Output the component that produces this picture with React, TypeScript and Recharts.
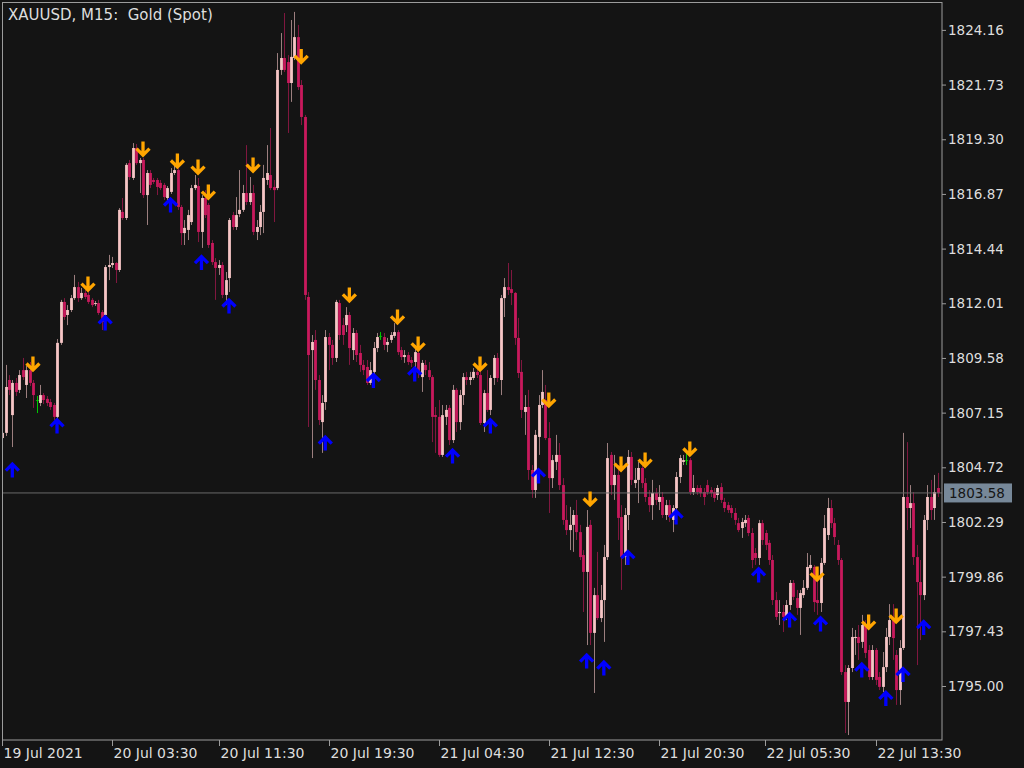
import React from 'react';
import { ComposedChart, Bar, Line, XAxis, YAxis, ReferenceLine } from 'recharts';

document.body.style.margin = '0';
document.body.style.background = '#141414';

// XAUUSD M15 candles left to right
const OPENS = [
  1806.02, 1806.25, 1808.60, 1807.04, 1808.47, 1808.16, 1809.04, 1808.38, 1809.04, 1808.47,
  1807.71, 1807.58, 1807.93, 1807.76, 1807.62, 1807.49, 1806.96, 1810.25, 1812.07, 1811.49,
  1811.71, 1812.24, 1812.73, 1812.24, 1812.47, 1812.38, 1812.16, 1811.98, 1812.02, 1811.62,
  1811.49, 1813.62, 1813.71, 1813.80, 1813.49, 1816.07, 1815.80, 1818.24, 1817.58, 1818.91,
  1818.24, 1818.38, 1816.82, 1817.80, 1817.49, 1817.49, 1817.36, 1817.27, 1816.69, 1816.96,
  1817.80, 1817.93, 1816.29, 1815.13, 1815.27, 1815.62, 1817.13, 1817.22, 1815.18, 1816.69,
  1816.38, 1814.69, 1813.84, 1813.58, 1813.71, 1812.38, 1813.13, 1815.93, 1815.40, 1815.98,
  1816.16, 1816.91, 1816.51, 1816.91, 1815.18, 1815.40, 1816.07, 1817.49, 1817.71, 1817.18,
  1817.13, 1822.38, 1822.91, 1822.73, 1821.80, 1822.91, 1823.84, 1821.71, 1820.29, 1812.29,
  1809.93, 1810.38, 1808.60, 1806.73, 1807.62, 1810.51, 1810.16, 1809.58, 1812.02, 1811.04,
  1811.04, 1811.49, 1809.93, 1810.69, 1809.80, 1809.27, 1809.18, 1808.47, 1808.96, 1810.02,
  1810.56, 1810.51, 1810.16, 1810.38, 1810.56, 1810.73, 1809.93, 1809.62, 1809.71, 1809.49,
  1809.40, 1809.80, 1808.73, 1809.27, 1809.04, 1808.73, 1807.04, 1806.96, 1805.27, 1806.96,
  1807.36, 1805.93, 1808.16, 1806.73, 1807.93, 1808.73, 1808.60, 1808.69, 1808.96, 1808.82,
  1806.69, 1808.02, 1807.27, 1808.69, 1809.58, 1808.60, 1812.24, 1812.73, 1812.64, 1812.47,
  1810.47, 1808.96, 1807.18, 1807.40, 1804.60, 1803.71, 1806.07, 1807.49, 1807.71, 1806.02,
  1804.24, 1804.96, 1805.27, 1803.93, 1802.38, 1801.93, 1802.16, 1802.60, 1801.84, 1800.82,
  1800.07, 1802.16, 1797.36, 1799.04, 1798.02, 1798.82, 1800.73, 1805.27, 1803.93, 1804.38,
  1802.51, 1800.73, 1802.60, 1805.18, 1804.02, 1804.16, 1804.69, 1804.02, 1803.40, 1803.04,
  1803.58, 1803.18, 1803.40, 1802.60, 1803.04, 1802.38, 1802.91, 1804.29, 1804.96, 1805.04,
  1805.04, 1803.62, 1803.80, 1803.80, 1803.62, 1803.93, 1803.71, 1803.62, 1803.49, 1803.84,
  1803.18, 1803.04, 1802.91, 1802.69, 1802.24, 1802.02, 1802.24, 1802.47, 1801.80, 1800.91,
  1800.69, 1802.24, 1801.80, 1801.36, 1800.60, 1798.82, 1798.24, 1798.29, 1798.07, 1798.60,
  1799.58, 1798.91, 1798.47, 1799.04, 1799.36, 1800.24, 1800.29, 1798.82, 1798.69, 1800.47,
  1801.71, 1802.91, 1802.24, 1801.27, 1800.60, 1795.62, 1794.29, 1795.80, 1797.13, 1797.18,
  1796.96, 1797.71, 1796.60, 1795.40, 1796.60, 1795.40, 1794.96, 1795.84, 1797.18, 1797.93,
  1796.38, 1794.82, 1796.69, 1803.40, 1802.91, 1803.13, 1800.73, 1799.62, 1799.04, 1802.38,
  1803.40, 1802.91, 1803.80,
];

const HIGHS = [
  1806.38, 1809.27, 1808.82, 1808.60, 1808.69, 1809.04, 1809.58, 1809.22, 1809.40, 1808.60,
  1807.89, 1808.38, 1808.02, 1807.89, 1807.76, 1807.58, 1810.42, 1812.16, 1812.24, 1811.93,
  1812.38, 1813.27, 1812.96, 1812.69, 1812.60, 1812.56, 1812.24, 1812.11, 1812.16, 1811.71,
  1813.71, 1814.16, 1814.07, 1813.84, 1816.24, 1816.69, 1818.24, 1818.38, 1819.13, 1819.09,
  1818.47, 1818.47, 1817.93, 1817.93, 1817.58, 1817.58, 1817.49, 1817.36, 1817.22, 1818.02,
  1818.24, 1818.02, 1816.38, 1815.71, 1816.16, 1817.27, 1817.71, 1817.58, 1816.82, 1817.04,
  1816.47, 1814.82, 1814.02, 1813.93, 1813.84, 1813.40, 1815.80, 1816.07, 1816.73, 1817.93,
  1817.27, 1819.04, 1817.62, 1817.27, 1815.71, 1816.38, 1818.16, 1819.04, 1819.80, 1817.49,
  1823.13, 1824.02, 1824.91, 1823.04, 1824.60, 1824.96, 1824.38, 1821.93, 1820.38, 1812.51,
  1810.60, 1810.82, 1808.82, 1807.93, 1810.82, 1810.69, 1810.38, 1812.16, 1812.16, 1811.36,
  1811.84, 1811.62, 1810.91, 1810.82, 1810.16, 1809.49, 1809.49, 1809.40, 1810.29, 1810.69,
  1810.73, 1810.69, 1810.47, 1810.73, 1811.13, 1810.82, 1810.07, 1809.93, 1809.84, 1809.62,
  1810.16, 1809.93, 1809.49, 1809.49, 1809.40, 1808.82, 1807.40, 1807.71, 1807.49, 1807.49,
  1807.49, 1808.38, 1808.24, 1808.16, 1808.91, 1808.96, 1808.96, 1809.13, 1809.13, 1809.04,
  1808.16, 1809.04, 1808.82, 1809.71, 1809.80, 1812.38, 1813.13, 1813.80, 1813.49, 1812.51,
  1811.36, 1809.49, 1807.93, 1808.16, 1804.82, 1806.38, 1807.93, 1809.04, 1808.38, 1806.73,
  1805.27, 1806.16, 1805.80, 1804.24, 1803.04, 1802.96, 1802.82, 1803.27, 1802.16, 1801.04,
  1802.82, 1802.38, 1799.36, 1800.96, 1799.49, 1801.27, 1805.80, 1805.40, 1805.27, 1804.82,
  1803.04, 1802.91, 1805.49, 1805.40, 1804.69, 1804.96, 1804.96, 1804.24, 1803.71, 1804.16,
  1803.80, 1803.93, 1803.62, 1803.27, 1803.27, 1803.04, 1804.51, 1805.27, 1805.27, 1805.40,
  1805.13, 1804.38, 1803.93, 1803.93, 1803.80, 1804.16, 1803.84, 1803.80, 1803.93, 1804.02,
  1803.36, 1803.18, 1803.04, 1802.91, 1802.47, 1802.47, 1802.60, 1802.60, 1802.02, 1801.13,
  1802.38, 1802.38, 1801.93, 1801.49, 1800.82, 1799.18, 1798.82, 1798.60, 1798.82, 1799.71,
  1799.71, 1799.27, 1799.27, 1799.71, 1800.91, 1800.82, 1800.38, 1800.16, 1800.69, 1802.60,
  1803.36, 1803.27, 1802.47, 1801.49, 1800.69, 1795.93, 1795.93, 1797.58, 1797.49, 1797.71,
  1798.16, 1797.93, 1796.82, 1796.82, 1796.69, 1795.62, 1796.51, 1797.58, 1798.64, 1798.64,
  1796.60, 1797.04, 1806.25, 1805.84, 1803.93, 1803.62, 1801.27, 1800.60, 1802.60, 1803.93,
  1804.16, 1804.38, 1804.47,
];

const LOWS = [
  1805.93, 1806.11, 1807.93, 1805.62, 1807.89, 1808.02, 1808.60, 1807.80, 1808.33, 1807.36,
  1807.13, 1807.44, 1807.53, 1807.44, 1807.27, 1806.82, 1806.87, 1810.16, 1811.27, 1811.04,
  1811.62, 1812.16, 1812.07, 1812.16, 1812.20, 1811.98, 1811.84, 1811.89, 1811.49, 1810.82,
  1811.36, 1813.04, 1813.58, 1812.91, 1813.40, 1815.71, 1815.71, 1817.49, 1817.49, 1818.16,
  1816.91, 1816.69, 1815.49, 1817.13, 1817.31, 1816.82, 1817.04, 1816.60, 1816.60, 1816.87,
  1817.71, 1816.16, 1814.60, 1814.60, 1814.82, 1815.49, 1817.04, 1814.73, 1814.47, 1815.80,
  1814.47, 1813.71, 1812.16, 1813.27, 1812.24, 1811.93, 1812.51, 1815.27, 1815.27, 1815.84,
  1816.07, 1816.38, 1816.38, 1815.04, 1814.82, 1815.04, 1815.13, 1817.27, 1817.04, 1815.62,
  1817.04, 1822.16, 1822.29, 1819.58, 1820.96, 1822.82, 1821.49, 1819.93, 1812.16, 1806.51,
  1805.13, 1808.16, 1806.60, 1805.36, 1807.27, 1809.04, 1809.27, 1809.40, 1810.38, 1810.16,
  1810.73, 1809.27, 1809.49, 1809.40, 1808.96, 1808.82, 1808.38, 1808.38, 1808.82, 1809.84,
  1810.38, 1809.93, 1809.84, 1810.25, 1810.47, 1809.71, 1809.49, 1809.36, 1809.27, 1809.18,
  1809.13, 1808.69, 1808.07, 1808.82, 1808.60, 1805.84, 1805.36, 1805.18, 1805.18, 1806.60,
  1805.71, 1805.80, 1806.29, 1806.38, 1807.49, 1808.38, 1808.38, 1808.60, 1808.69, 1806.60,
  1806.29, 1807.18, 1807.04, 1808.38, 1808.51, 1807.93, 1811.40, 1812.38, 1811.93, 1810.16,
  1808.69, 1806.91, 1806.16, 1804.16, 1803.36, 1803.36, 1805.27, 1807.36, 1805.93, 1802.69,
  1803.80, 1804.60, 1803.71, 1802.16, 1801.71, 1801.04, 1800.96, 1801.49, 1800.60, 1798.29,
  1796.82, 1796.82, 1794.69, 1797.93, 1797.84, 1796.96, 1800.60, 1803.49, 1803.27, 1801.49,
  1799.27, 1800.38, 1801.93, 1803.93, 1803.80, 1803.13, 1803.80, 1803.18, 1802.73, 1802.38,
  1803.04, 1802.82, 1802.47, 1802.38, 1802.29, 1801.84, 1802.82, 1804.02, 1804.82, 1804.82,
  1803.49, 1803.49, 1803.49, 1803.40, 1803.04, 1803.49, 1803.40, 1803.18, 1803.27, 1803.13,
  1802.73, 1802.69, 1802.47, 1802.16, 1801.84, 1801.58, 1802.07, 1801.66, 1800.24, 1800.38,
  1800.38, 1801.27, 1801.04, 1800.38, 1798.60, 1797.93, 1797.71, 1797.40, 1797.93, 1798.38,
  1798.82, 1798.16, 1797.27, 1798.91, 1799.27, 1800.16, 1798.29, 1798.16, 1798.29, 1800.38,
  1801.49, 1802.02, 1801.27, 1800.38, 1795.49, 1792.91, 1792.82, 1795.62, 1796.38, 1796.16,
  1796.69, 1796.24, 1795.27, 1795.27, 1795.04, 1794.82, 1794.73, 1795.62, 1796.82, 1796.16,
  1794.16, 1794.16, 1796.60, 1801.93, 1802.02, 1800.38, 1795.93, 1797.04, 1798.82, 1801.93,
  1802.38, 1802.38, 1803.40,
];

const CLOSES = [
  1806.25, 1808.29, 1808.16, 1808.47, 1808.07, 1808.82, 1808.73, 1809.04, 1808.47, 1807.93,
  1807.71, 1807.93, 1807.71, 1807.58, 1807.40, 1806.96, 1810.25, 1812.07, 1811.40, 1811.71,
  1812.24, 1812.73, 1812.24, 1812.47, 1812.29, 1812.07, 1811.93, 1812.02, 1811.58, 1811.18,
  1813.62, 1813.71, 1813.80, 1813.49, 1816.16, 1815.80, 1818.16, 1817.62, 1818.91, 1818.24,
  1818.38, 1816.82, 1817.80, 1817.27, 1817.40, 1817.18, 1817.13, 1816.73, 1817.13, 1817.80,
  1817.93, 1816.29, 1815.13, 1815.36, 1815.93, 1817.13, 1817.27, 1815.18, 1816.69, 1815.93,
  1814.60, 1813.84, 1813.58, 1813.71, 1812.38, 1813.04, 1815.71, 1815.40, 1815.93, 1816.16,
  1816.91, 1816.51, 1816.91, 1815.18, 1815.40, 1816.07, 1817.58, 1817.80, 1817.13, 1817.04,
  1822.38, 1822.91, 1822.38, 1821.80, 1822.96, 1823.84, 1821.62, 1820.29, 1812.38, 1809.71,
  1810.29, 1808.60, 1806.82, 1807.58, 1810.51, 1810.16, 1809.58, 1812.07, 1810.60, 1810.60,
  1811.49, 1810.02, 1810.69, 1809.71, 1809.27, 1809.04, 1808.47, 1809.04, 1810.02, 1810.51,
  1810.56, 1810.16, 1810.29, 1810.60, 1810.73, 1809.84, 1809.62, 1809.71, 1809.40, 1809.36,
  1809.84, 1808.91, 1809.36, 1809.04, 1808.73, 1806.96, 1806.96, 1805.27, 1807.04, 1807.27,
  1805.93, 1808.16, 1806.73, 1807.93, 1808.73, 1808.60, 1808.73, 1808.96, 1808.82, 1806.69,
  1808.02, 1807.27, 1808.69, 1809.58, 1808.69, 1812.24, 1812.73, 1812.60, 1812.47, 1810.47,
  1808.91, 1807.27, 1807.40, 1804.60, 1803.71, 1806.16, 1807.49, 1808.07, 1806.02, 1804.24,
  1805.04, 1805.27, 1803.93, 1802.38, 1801.93, 1802.16, 1802.60, 1801.84, 1800.73, 1800.07,
  1802.07, 1797.36, 1799.04, 1798.02, 1798.82, 1800.73, 1805.13, 1803.93, 1804.38, 1802.47,
  1800.73, 1802.60, 1805.18, 1804.16, 1804.16, 1804.69, 1804.02, 1803.40, 1803.04, 1803.58,
  1803.27, 1803.40, 1802.60, 1803.04, 1802.51, 1802.91, 1804.29, 1805.13, 1805.04, 1805.04,
  1803.62, 1803.80, 1803.62, 1803.58, 1803.40, 1803.62, 1803.58, 1803.36, 1803.80, 1803.27,
  1802.91, 1802.82, 1802.69, 1802.38, 1801.93, 1802.29, 1802.38, 1801.80, 1800.60, 1800.69,
  1802.24, 1801.49, 1801.27, 1800.60, 1798.82, 1798.07, 1798.29, 1798.07, 1798.60, 1799.58,
  1798.96, 1798.47, 1799.13, 1799.36, 1800.29, 1800.38, 1798.73, 1798.69, 1800.47, 1802.02,
  1802.91, 1802.24, 1801.62, 1800.60, 1795.62, 1794.29, 1795.80, 1797.18, 1797.18, 1796.91,
  1797.71, 1796.47, 1795.40, 1796.60, 1795.27, 1794.96, 1795.84, 1797.18, 1797.93, 1797.13,
  1794.82, 1796.69, 1803.40, 1802.91, 1803.13, 1800.73, 1799.62, 1799.04, 1802.38, 1803.40,
  1802.82, 1803.62, 1803.58,
];

// indicator arrows: bar index + price level of the arrow centre
const DOWN_IDX = [9, 25, 41, 51, 57, 60, 73, 87, 101, 115, 121, 139, 159, 171, 180, 187, 200, 237, 252, 260];
const DOWN_PRICE = [
  1809.29, 1812.84, 1818.84, 1818.31, 1818.04, 1816.93, 1818.13, 1822.96, 1812.36, 1811.38,
  1810.18, 1809.29, 1807.69, 1803.29, 1804.84, 1805.02, 1805.51, 1799.96, 1797.82, 1798.09,
];
const UP_IDX = [3, 16, 30, 49, 58, 66, 94, 108, 120, 131, 142, 156, 170, 175, 182, 196, 220, 229, 238, 250, 257, 262, 268];
const UP_PRICE = [
  1804.62, 1806.58, 1811.16, 1816.40, 1813.84, 1811.91, 1805.82, 1808.60, 1808.89, 1805.24,
  1806.58, 1804.36, 1796.13, 1795.82, 1800.73, 1802.53, 1799.96, 1797.96, 1797.78, 1795.73,
  1794.47, 1795.53, 1797.62,
];

const PRICE_TICKS = [
  1795.0, 1797.43, 1799.86, 1802.29, 1804.72, 1807.15, 1809.58, 1812.01, 1814.44, 1816.87,
  1819.3, 1821.73, 1824.16,
];
const TIME_TICKS = [0, 32, 63, 95, 127, 159, 191, 222, 254];
const TIME_LABELS = [
  '19 Jul 2021', '20 Jul 03:30', '20 Jul 11:30', '20 Jul 19:30', '21 Jul 04:30',
  '21 Jul 12:30', '21 Jul 20:30', '22 Jul 05:30', '22 Jul 13:30',
];
const LAST_PRICE = 1803.58;

const BG = '#141414';
const BULL = '#f7c6c6';
const BEAR = '#c8195c';
const DOJI = '#00c800';
const FRAME = '#9c9c9c';
const TEXT = '#dedede';
const FONT = '"DejaVu Sans", sans-serif';

const data: any[] = OPENS.map((o, i) => ({
  i,
  o,
  h: HIGHS[i],
  l: LOWS[i],
  c: CLOSES[i],
  up: null,
  down: null,
}));
DOWN_IDX.forEach((idx, k) => { data[idx].down = DOWN_PRICE[k]; });
UP_IDX.forEach((idx, k) => { data[idx].up = UP_PRICE[k]; });

function Candle(props: any) {
  const { x, y, width, height, payload } = props;
  const { o, h, l, c } = payload;
  if (h === l || !isFinite(height)) return <g />;
  const top = Math.min(y, y + height);
  const hgt = Math.abs(height);
  const k = hgt / (h - l);
  const cx = Math.round(x + width / 2) + 0.5;
  const bTop = top + (h - Math.max(o, c)) * k;
  const bBot = top + (h - Math.min(o, c)) * k;
  const col = o === c ? DOJI : c > o ? BULL : BEAR;
  return (
    <g>
      <line x1={cx} x2={cx} y1={top} y2={top + hgt} stroke={col} strokeOpacity={o === c ? 1 : 0.6} />
      <rect x={cx - 1.4} y={bTop} width={2.8} height={Math.max(1, bBot - bTop)} fill={col} />
    </g>
  );
}

function DownArrow(props: any) {
  const { cx, cy, value } = props;
  if (value == null || cy == null || !isFinite(cy)) return <g />;
  return (
    <path
      d={`M${cx},${cy - 8} L${cx},${cy + 5} M${cx - 6.5},${cy - 1} L${cx},${cy + 5.5} L${cx + 6.5},${cy - 1}`}
      stroke="#ffa500"
      strokeWidth={3.3}
      fill="none"
    />
  );
}

function UpArrow(props: any) {
  const { cx, cy, value } = props;
  if (value == null || cy == null || !isFinite(cy)) return <g />;
  return (
    <path
      d={`M${cx},${cy + 8} L${cx},${cy - 5} M${cx - 6.5},${cy + 1} L${cx},${cy - 5.5} L${cx + 6.5},${cy + 1}`}
      stroke="#0000ff"
      strokeWidth={3.3}
      fill="none"
    />
  );
}

function PriceTick(props: any) {
  const { y, payload } = props;
  return (
    <g>
      <line x1={942} x2={946} y1={y + 0.5} y2={y + 0.5} stroke={FRAME} />
      <text x={948} y={y + 5} fill={TEXT} fontSize={13.5} fontFamily={FONT}>
        {Number(payload.value).toFixed(2)}
      </text>
    </g>
  );
}

function TimeTick(props: any) {
  const { x, payload } = props;
  const label = TIME_LABELS[TIME_TICKS.indexOf(payload.value)];
  const px = Math.round(x) + 0.5;
  return (
    <g>
      <line x1={px} x2={px} y1={740} y2={746} stroke={FRAME} />
      <text x={px + 1} y={758} fill={TEXT} fontSize={14} fontFamily={FONT}>
        {label}
      </text>
    </g>
  );
}

function PriceTag(props: any) {
  const { viewBox } = props;
  const y = viewBox.y;
  return (
    <g>
      <rect x={944} y={y - 9.5} width={68} height={19} fill="#778899" />
      <text x={949} y={y + 5} fill="#151515" fontSize={13.5} fontFamily={FONT}>
        {LAST_PRICE.toFixed(2)}
      </text>
    </g>
  );
}

export default function App() {
  return (
    <div style={{ position: 'relative', width: 1024, height: 768, background: BG }}>
      <ComposedChart
        width={1024}
        height={768}
        data={data}
        margin={{ top: 2, right: 2, bottom: 2, left: 2 }}
      >
        <XAxis
          dataKey="i"
          type="number"
          domain={[0, 273.33]}
          ticks={TIME_TICKS}
          interval={0}
          height={26}
          axisLine={false}
          tickLine={false}
          tick={<TimeTick />}
          allowDataOverflow
        />
        <YAxis
          orientation="right"
          type="number"
          domain={[1792.6, 1825.4]}
          ticks={PRICE_TICKS}
          interval={0}
          width={80}
          axisLine={false}
          tickLine={false}
          tick={<PriceTick />}
          allowDataOverflow
        />
        <ReferenceLine y={LAST_PRICE} stroke="#6a6a6a" strokeWidth={1} label={<PriceTag />} />
        <Bar dataKey={(d: any) => [d.l, d.h]} shape={<Candle />} isAnimationActive={false} />
        <Line
          dataKey="down"
          stroke="none"
          dot={<DownArrow />}
          activeDot={false}
          isAnimationActive={false}
        />
        <Line
          dataKey="up"
          stroke="none"
          dot={<UpArrow />}
          activeDot={false}
          isAnimationActive={false}
        />
      </ComposedChart>
      <svg
        width={1024}
        height={768}
        style={{ position: 'absolute', left: 0, top: 0, pointerEvents: 'none' }}
      >
        <rect x={2.5} y={2.5} width={939.5} height={737.5} fill="none" stroke={FRAME} />
        <text x={8} y={20} fill={TEXT} fontSize={15} fontFamily={FONT} style={{ whiteSpace: 'pre' }}>
          {'XAUUSD, M15:  Gold (Spot)'}
        </text>
      </svg>
    </div>
  );
}
